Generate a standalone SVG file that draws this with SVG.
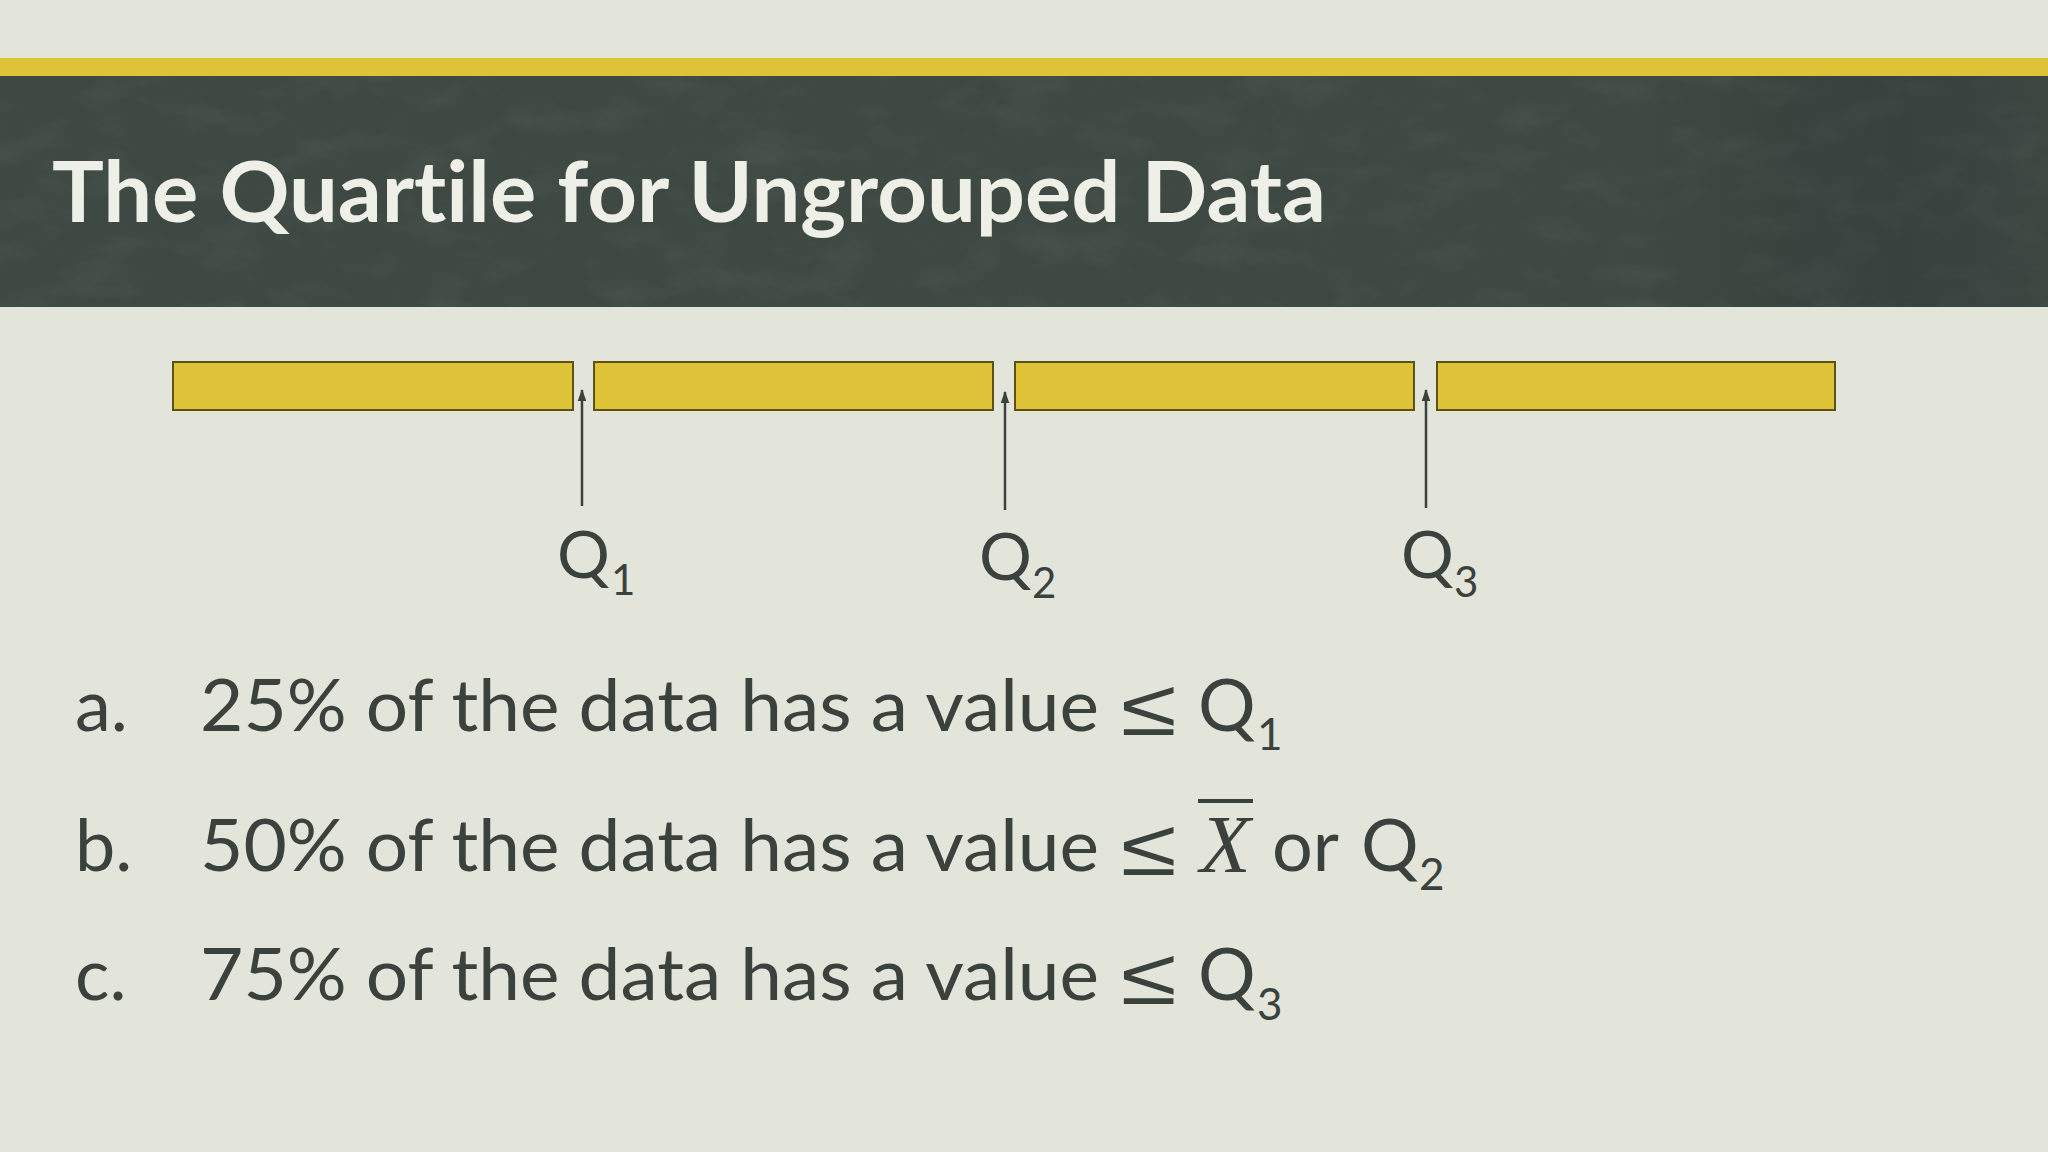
<svg xmlns="http://www.w3.org/2000/svg" width="2048" height="1152" viewBox="0 0 2048 1152">
  <defs>
    <style>
      .body { font-family: Lato, "DejaVu Sans", sans-serif; fill: #3B413D; font-variant-ligatures: none; }
      .main { font-size: 72px; }
      .le { font-family: "Liberation Sans", sans-serif; font-size: 80px; }
      .sub { font-size: 44px; }
      .lbl { font-size: 66px; }
      .lblsub { font-size: 42px; }
      .title { font-family: Lato, "Liberation Sans", sans-serif; font-weight: bold; font-size: 84px; fill: #EEEFE6; font-variant-ligatures: none; }
      .seg { fill: #DEC237; stroke: #5E5114; stroke-width: 2; }
      .arrow { stroke: #3B413D; stroke-width: 2.5; fill: none; marker-end: url(#ah); }
    </style>
    <marker id="ah" viewBox="0 0 10 10" refX="9" refY="5" markerWidth="5" markerHeight="5" orient="auto" markerUnits="strokeWidth">
      <path d="M0,1.5 L10,5 L0,8.5 Z" fill="#3B413D"/>
    </marker>
    <filter id="chalk" x="0" y="0" width="100%" height="100%">
      <feTurbulence type="fractalNoise" baseFrequency="0.015 0.03" numOctaves="4" seed="11" result="n"/>
      <feColorMatrix in="n" type="matrix" values="0 0 0 0 0.9  0 0 0 0 0.92  0 0 0 0 0.9  1.0 0 0 0 -0.45" result="c"/>
      <feComposite in="c" in2="SourceGraphic" operator="in"/>
    </filter>
    <linearGradient id="shade" x1="0" y1="0" x2="1" y2="0">
      <stop offset="0" stop-color="#000" stop-opacity="0"/>
      <stop offset="0.8" stop-color="#000" stop-opacity="0"/>
      <stop offset="0.93" stop-color="#0a1418" stop-opacity="0.15"/>
      <stop offset="1" stop-color="#0a1418" stop-opacity="0.05"/>
    </linearGradient>
  </defs>

  <rect x="0" y="0" width="2048" height="1152" fill="#E4E5DA"/>

  <g id="header">
    <rect x="0" y="58" width="2048" height="19" fill="#DEC237"/>
    <rect x="0" y="76" width="2048" height="231" fill="#3F4944"/>
    <rect x="0" y="76" width="2048" height="231" fill="#ffffff" opacity="0.1" filter="url(#chalk)"/>
    <rect x="0" y="76" width="2048" height="231" fill="url(#shade)"/>
    <text class="title" x="52" y="222" textLength="1274" lengthAdjust="spacingAndGlyphs">The Quartile for Ungrouped Data</text>
  </g>

  <g id="seg1"><rect class="seg" x="173" y="362" width="400" height="48"/></g>
  <g id="seg2"><rect class="seg" x="594" y="362" width="399" height="48"/></g>
  <g id="seg3"><rect class="seg" x="1015" y="362" width="399" height="48"/></g>
  <g id="seg4"><rect class="seg" x="1437" y="362" width="398" height="48"/></g>

  <g id="connectors">
    <line class="arrow" x1="582" y1="506" x2="582" y2="390"/>
    <line class="arrow" x1="1005" y1="510" x2="1005" y2="392"/>
    <line class="arrow" x1="1426" y1="508" x2="1426" y2="390"/>
  </g>

  <g id="q1" class="body">
    <text class="lbl" x="557" y="578">Q</text>
    <text class="lblsub" x="611" y="595">1</text>
  </g>
  <g id="q2" class="body">
    <text class="lbl" x="979" y="580">Q</text>
    <text class="lblsub" x="1032" y="598">2</text>
  </g>
  <g id="q3" class="body">
    <text class="lbl" x="1401" y="578">Q</text>
    <text class="lblsub" x="1454" y="597">3</text>
  </g>

  <g id="line-a" class="body">
    <text class="main" x="75" y="731">a.</text>
    <text class="main" x="200" y="731" textLength="899" lengthAdjust="spacingAndGlyphs">25% of the data has a value</text>
    <text class="le" x="1121" y="735" textLength="56" lengthAdjust="spacingAndGlyphs">≤</text>
    <text class="main" x="1198" y="731">Q</text>
    <text class="sub" x="1257" y="750">1</text>
  </g>

  <g id="line-b" class="body">
    <text class="main" x="75" y="871">b.</text>
    <text class="main" x="200" y="871" textLength="899" lengthAdjust="spacingAndGlyphs">50% of the data has a value</text>
    <text class="le" x="1121" y="875" textLength="56" lengthAdjust="spacingAndGlyphs">≤</text>
    <text x="1200" y="872" font-family="'Liberation Serif', serif" font-style="italic" font-size="83" fill="#3B413D">X</text>
    <line x1="1198" y1="801" x2="1253" y2="801" stroke="#3B413D" stroke-width="4"/>
    <text class="main" x="1272" y="871">or</text>
    <text class="main" x="1361" y="871">Q</text>
    <text class="sub" x="1419" y="890">2</text>
  </g>

  <g id="line-c" class="body">
    <text class="main" x="75" y="1000">c.</text>
    <text class="main" x="200" y="1000" textLength="899" lengthAdjust="spacingAndGlyphs">75% of the data has a value</text>
    <text class="le" x="1121" y="1004" textLength="56" lengthAdjust="spacingAndGlyphs">≤</text>
    <text class="main" x="1198" y="1000">Q</text>
    <text class="sub" x="1257" y="1020">3</text>
  </g>
</svg>
